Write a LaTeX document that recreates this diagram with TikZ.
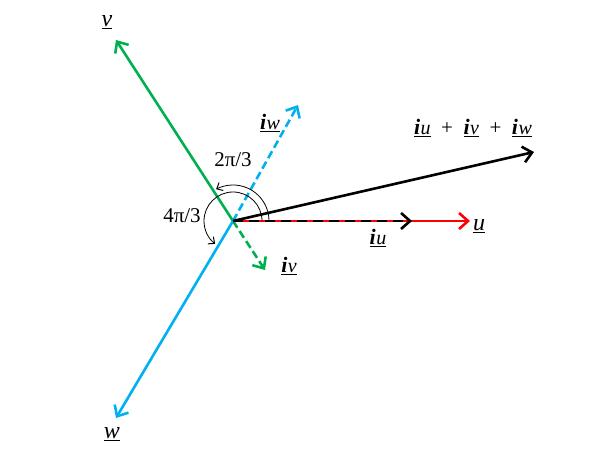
\documentclass[tikz,border=0pt]{standalone}
\usepackage{fontspec}
\setmainfont{Liberation Serif}
\usepackage{tikz}
\usetikzlibrary{arrows.meta}
\tikzset{
  font={\fontsize{21bp}{24bp}\selectfont}}
\definecolor{phgreen}{RGB}{0,176,80}
\definecolor{phblue}{RGB}{0,176,240}
\newcommand{\phvec}[1]{\underline{\fontsize{24bp}{26bp}\selectfont\textit{#1}}}
\newcommand{\phcur}[1]{\underline{\fontsize{22bp}{24bp}\selectfont\textbf{\textit{i}}\kern0.5bp\raisebox{-0.5bp}{\fontsize{20bp}{20bp}\selectfont\textit{#1}}}}

\begin{document}
\begin{tikzpicture}[x=1bp, y=-1bp, line width=2.6bp,
  vec/.style={-{Straight Barb[length=9bp,width=16bp,line width=2.6bp]}},
  ang/.style={line width=0.8bp,-{Straight Barb[length=5bp,width=9bp,line width=1bp]}},
  lbl/.style={inner sep=1bp}]
  \useasboundingbox (0,0) rectangle (590,462);
  % phasors
  \coordinate (o) at (233,221);
  \coordinate (ue) at (470,221);
  \coordinate (ve) at (116,40);
  \coordinate (we) at (116,418);
  \coordinate (iue) at (412,221);
  \coordinate (ive) at (265,270);
  \coordinate (iwe) at (298,105);
  \coordinate (se) at (534,152);
  \draw[vec, red] (o) -- (ue);
  \draw[vec, black, dash pattern=on 10bp off 6bp] (o) -- (iue);
  \draw[vec, phgreen] (o) -- (ve);
  \draw[vec, phgreen, dash pattern=on 8bp off 4bp] (o) -- (ive);
  \draw[vec, phblue] (o) -- (we);
  \draw[vec, phblue, dash pattern=on 8bp off 4bp] (o) -- (iwe);
  \draw[vec, black] (o) -- (se);
  % angles (y axis points down, so angles are negative)
  \draw[ang] ([shift={(-2:36)}]o) arc[start angle=-2, end angle=-118, radius=36];
  \draw[ang] ([shift={(0:29)}]o) arc[start angle=0, end angle=-232, radius=29];
  % labels
  \node[lbl] (u) at (479,226) {\phvec{u}};
  \node[lbl] (v) at (107,22) {\phvec{v}};
  \node[lbl] (w) at (112,434) {\phvec{w}};
  \node[lbl] (iu) at (378,238) {\phcur{u}};
  \node[lbl] (iv) at (289,266) {\phcur{v}};
  \node[lbl] (iw) at (270,123) {\phcur{w}};
  \node[lbl] (sum) at (473,128) {\phcur{u}\enspace+\enspace\phcur{v}\enspace+\enspace\phcur{w}};
  \node[lbl] (a2) at (233,160) {2π/3};
  \node[lbl] (a4) at (182,216) {4π/3};
\end{tikzpicture}
\end{document}
